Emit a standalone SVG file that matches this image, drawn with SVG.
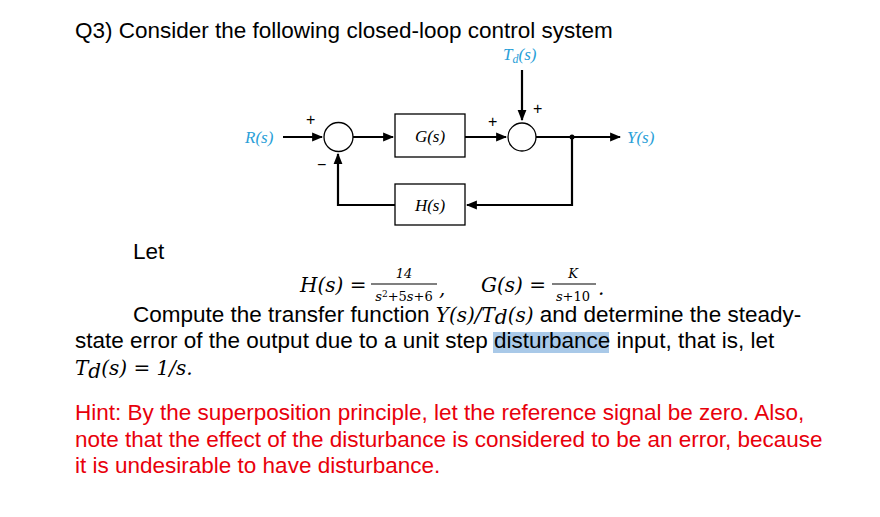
<svg xmlns="http://www.w3.org/2000/svg" width="880" height="517" viewBox="0 0 880 517">
<defs>
<marker id="ah" viewBox="0 0 10 10" refX="9" refY="5" markerWidth="5" markerHeight="5" orient="auto" markerUnits="strokeWidth"><path d="M0,1 L10,5 L0,9 z" fill="#000"/></marker>
<style>
.t{font-family:"Liberation Sans",Arial,sans-serif;font-size:22.5px;fill:#000}
.r{fill:#e8000b}
.m{font-family:"DejaVu Serif",serif;font-style:italic;font-size:20px}
.lbl{font-family:"Liberation Serif",serif;font-size:17px;font-style:italic;fill:#2aa0d8}
.bx{font-family:"Liberation Serif",serif;font-size:17px;font-style:italic}
.sg{font-family:"Liberation Sans",sans-serif;font-size:16px}
.ln{stroke:#000;stroke-width:2.2;fill:none}
.nd{fill:#fff;stroke:#000;stroke-width:1.3}
.fr{font-family:"DejaVu Serif",serif;font-style:italic;font-size:13px}
</style>
</defs>
<rect width="880" height="517" fill="#fff"/>
<text class="t" x="75" y="38">Q3) Consider the following closed-loop control system</text>
<g id="connectors">
<path class="ln" d="M283,137 H322" marker-end="url(#ah)"/>
<path class="ln" d="M353,137 H393" marker-end="url(#ah)"/>
<path class="ln" d="M465,137 H506" marker-end="url(#ah)"/>
<path class="ln" d="M522,70 V120" marker-end="url(#ah)"/>
<path class="ln" d="M536,137 H620" marker-end="url(#ah)"/>
<path class="ln" d="M572,137 V205 H467" marker-end="url(#ah)"/>
<path class="ln" d="M395,205 H338 V154" marker-end="url(#ah)"/>
<circle cx="572" cy="137" r="2.5"/>
</g>
<g id="R"><text class="lbl" x="245" y="143">R(s)</text></g>
<g id="Y"><text class="lbl" x="627" y="143">Y(s)</text></g>
<g id="Td"><text class="lbl" x="503" y="60">T<tspan font-size="12" dy="3">d</tspan><tspan dy="-3">(s)</tspan></text></g>
<g id="sum1"><circle class="nd" cx="338.5" cy="137" r="14.5"/><text class="sg" x="306" y="125">+</text><text class="sg" x="317" y="170">−</text></g>
<g id="sum2"><circle class="nd" cx="522" cy="137" r="14"/><text class="sg" x="488" y="127">+</text><text class="sg" x="533" y="114">+</text></g>
<g id="G"><rect class="nd" x="395" y="114" width="70" height="43"/><text class="bx" x="430" y="142" text-anchor="middle">G(s)</text></g>
<g id="H"><rect class="nd" x="395" y="184" width="70" height="41"/><text class="bx" x="430" y="211" text-anchor="middle">H(s)</text></g>
<text class="t" x="133" y="259">Let</text>
<g id="eq">
<text class="m" x="300" y="292">H(s) =</text>
<text class="fr" x="404" y="278" text-anchor="middle" font-style="normal">14</text>
<line x1="371" y1="284" x2="437" y2="284" stroke="#000" stroke-width="1.2"/>
<text class="fr" x="404" y="301" text-anchor="middle">s<tspan font-size="9" dy="-4" font-style="normal">2</tspan><tspan dy="4" font-style="normal">+5</tspan>s<tspan font-style="normal">+6</tspan></text>
<text class="m" x="439" y="295">,</text>
<text class="m" x="481" y="292">G(s) =</text>
<text class="fr" x="573" y="278" text-anchor="middle">K</text>
<line x1="552" y1="284" x2="596" y2="284" stroke="#000" stroke-width="1.2"/>
<text class="fr" x="573" y="301" text-anchor="middle">s<tspan font-style="normal">+10</tspan></text>
<text class="m" x="598" y="295">.</text>
</g>
<rect x="493" y="332" width="116" height="21" fill="#a9c9e8"/>
<text class="t" x="133" y="322">Compute the transfer function <tspan class="m">Y(s)/T</tspan><tspan class="m" font-size="13" dy="2">d</tspan><tspan class="m" dy="-2">(s)</tspan> and determine the steady-</text>
<text class="t" x="75" y="348">state error of the output due to a unit step disturbance input, that is, let</text>
<text class="t" x="75" y="375"><tspan class="m">T</tspan><tspan class="m" font-size="13" dy="3">d</tspan><tspan class="m" dy="-3">(s) = 1/s.</tspan></text>
<text class="t r" x="75" y="420">Hint: By the superposition principle, let the reference signal be zero. Also,</text>
<text class="t r" x="75" y="447">note that the effect of the disturbance is considered to be an error, because</text>
<text class="t r" x="75" y="473">it is undesirable to have disturbance.</text>
</svg>
